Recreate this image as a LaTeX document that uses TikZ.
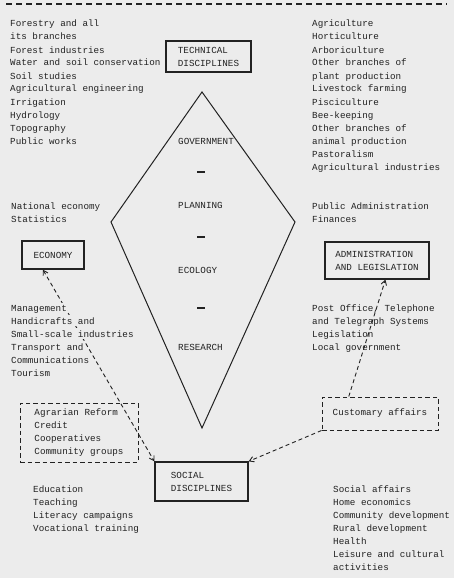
\documentclass[tikz,border=0pt]{standalone}
\usepackage{fontspec}
\setmonofont{Liberation Mono}
\usetikzlibrary{arrows.meta,calc}
\definecolor{bg}{HTML}{ECECEC}
\definecolor{ink}{HTML}{222222}
\begin{document}
\begin{tikzpicture}[x=1pt,y=-1pt,
  every node/.style={font=\ttfamily\fontsize{9.27}{13}\selectfont, text=ink, inner sep=0pt},
  txt/.style={anchor=base west},
  mtxt/.style={anchor=base west, fill=bg, inner ysep=2.2pt},
  box/.style={draw=ink, line width=1.3pt, align=left},
  dbox/.style={draw=ink, line width=1pt, dash pattern=on 4.5pt off 3pt, align=left},
  conn/.style={draw=ink, line width=0.9pt, dash pattern=on 4pt off 3pt},
  tip/.style={-{Straight Barb[length=4.5pt,width=5.5pt]}},
  bothtips/.style={{Straight Barb[length=4.5pt,width=5.5pt]}-{Straight Barb[length=4.5pt,width=5.5pt]}},
  bar/.style={draw=ink, line width=1.6pt},
  rule/.style={draw=ink, line width=1.2pt, dash pattern=on 6pt off 4pt}
]
\fill[bg] (0,0) rectangle (454,578);
\useasboundingbox (0,0) rectangle (454,578);

% top dashed rule
\draw[rule] (6,4) -- (447,4);

% diamond
\coordinate (dT) at (202,92);
\coordinate (dR) at (295,222);
\coordinate (dB) at (202,428);
\coordinate (dL) at (111,222);
\draw[ink, line width=1pt] (dT) -- (dR) -- (dB) -- (dL) -- cycle;

\node[txt] (gov) at (178,144) {GOVERNMENT};
\node[txt] (plan) at (178,208) {PLANNING};
\node[txt] (eco) at (178,273) {ECOLOGY};
\node[txt] (res) at (178,350) {RESEARCH};
\draw[bar] (197,172) -- (205,172);
\draw[bar] (197,237) -- (205,237);
\draw[bar] (197,308) -- (205,308);

% boxes
\node[box, minimum width=85pt, minimum height=31pt] (tech) at (208.5,56.5) {TECHNICAL\\DISCIPLINES};
\node[box, minimum width=62pt, minimum height=28pt] (econ) at (53,255) {ECONOMY};
\node[box, minimum width=104pt, minimum height=37pt] (admin) at (377,260.5) {ADMINISTRATION\\AND LEGISLATION};
\node[box, minimum width=93pt, minimum height=39pt] (soc) at (201.5,481.5) {SOCIAL\\DISCIPLINES};
\node[dbox, minimum width=118pt, minimum height=59pt] (agr) at (79,432.5) {Agrarian Reform\\Credit\\Cooperatives\\Community groups};
\node[dbox, minimum width=116pt, minimum height=33pt] (cust) at (380,413.5) {Customary affairs};

% connectors
\draw[conn, bothtips] ($(econ.south west)!0.34!(econ.south east)$) -- (soc.north west);
\draw[conn, tip] (cust.south west) -- (soc.north east);
\draw[conn, tip] ($(cust.north west)!0.233!(cust.north east)$) -- ($(admin.south west)!0.58!(admin.south east)$);

% text columns
\foreach \t [count=\i] in {Forestry and all,its branches,Forest industries,Water and soil conservation,Soil studies,Agricultural engineering,Irrigation,Hydrology,Topography,Public works}
  \node[txt] (lt\i) at (10,14+13*\i) {\t};
\foreach \t [count=\i] in {Agriculture,Horticulture,Arboriculture,Other branches of,plant production,Livestock farming,Pisciculture,Bee-keeping,Other branches of,animal production,Pastoralism,Agricultural industries}
  \node[txt] (rt\i) at (312,14+13*\i) {\t};
\foreach \t [count=\i] in {National economy,Statistics}
  \node[txt] (lm\i) at (11,196+13*\i) {\t};
\foreach \t [count=\i] in {Public Administration,Finances}
  \node[txt] (rm\i) at (312,196+13*\i) {\t};
\foreach \t [count=\i] in {Management,Handicrafts and,Small-scale industries,Transport and,Communications,Tourism}
  \node[mtxt] (ll\i) at (11,298+13*\i) {\t};
\foreach \t [count=\i] in {{Post Office, Telephone},and Telegraph Systems,Legislation,Local government}
  \node[txt] (rl\i) at (312,298+13*\i) {\t};
\foreach \t [count=\i] in {Education,Teaching,Literacy campaigns,Vocational training}
  \node[txt] (lb\i) at (33,479+13*\i) {\t};
\foreach \t [count=\i] in {Social affairs,Home economics,Community development,Rural development,Health,Leisure and cultural,activities}
  \node[txt] (rb\i) at (333,479+13*\i) {\t};
\end{tikzpicture}
\end{document}
